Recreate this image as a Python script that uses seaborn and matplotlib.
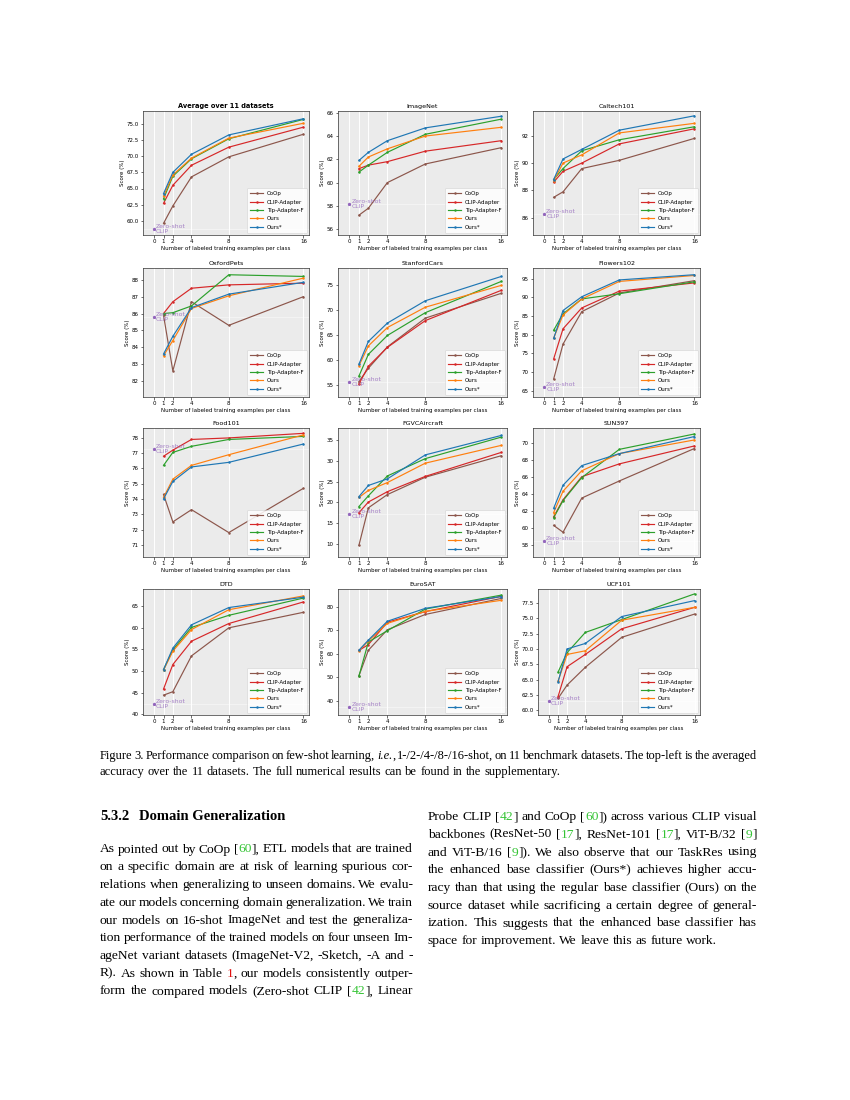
import re
import numpy as np
import pandas as pd
import matplotlib
matplotlib.use("Agg")
import matplotlib.pyplot as plt
import seaborn as sns
from matplotlib.ticker import MultipleLocator, FixedLocator
from matplotlib.font_manager import FontProperties

# ---------------- data ----------------
SHOTS = [1, 2, 4, 8, 16]
XTICKS = [0, 1, 2, 4, 8, 16]
DATASETS = ["Average over 11 datasets", "ImageNet", "Caltech101",
            "OxfordPets", "StanfordCars", "Flowers102",
            "Food101", "FGVCAircraft", "SUN397",
            "DTD", "EuroSAT", "UCF101"]
METHODS = ["CoOp", "CLIP-Adapter", "Tip-Adapter-F", "Ours", "Ours*"]

ZERO_SHOT = [58.8, 58.2, 86.3, 85.8, 55.6, 66.1, 77.3, 17.3, 58.5, 42.3, 37.6, 61.5]

COOP = [
    [59.6, 62.3, 66.8, 69.9, 73.4],
    [57.2, 57.8, 60.0, 61.6, 63.0],
    [87.5, 87.9, 89.6, 90.2, 91.8],
    [85.9, 82.6, 86.7, 85.3, 87.0],
    [55.6, 58.3, 62.6, 68.4, 73.4],
    [68.1, 77.5, 86.2, 91.2, 94.5],
    [74.3, 72.5, 73.3, 71.8, 74.7],
    [9.6, 18.7, 21.9, 26.1, 31.3],
    [60.3, 59.5, 63.5, 65.5, 69.3],
    [44.4, 45.2, 53.5, 60.0, 63.6],
    [50.6, 61.5, 70.2, 76.7, 83.5],
    [61.9, 64.1, 67.0, 71.9, 75.7],
]
CLIP_ADAPTER = [
    [62.7, 65.5, 68.6, 71.4, 74.5],
    [61.2, 61.5, 61.8, 62.7, 63.6],
    [88.6, 89.4, 90.0, 91.4, 92.5],
    [86.0, 86.7, 87.5, 87.7, 87.8],
    [55.1, 58.7, 62.5, 67.9, 74.0],
    [73.5, 81.6, 87.2, 91.7, 93.9],
    [76.8, 77.2, 77.9, 78.0, 78.3],
    [17.5, 20.1, 22.6, 26.3, 32.1],
    [61.3, 63.3, 66.0, 67.5, 69.6],
    [45.8, 51.5, 56.9, 61.0, 66.0],
    [61.4, 63.9, 73.4, 77.9, 84.4],
    [62.2, 67.1, 69.1, 73.3, 76.8],
]
TIP_ADAPTER_F = [
    [63.4, 66.9, 69.6, 72.7, 75.7],
    [60.9, 61.5, 62.6, 64.15, 65.45],
    [88.8, 89.6, 90.9, 91.7, 92.65],
    [86.0, 86.05, 86.45, 88.3, 88.2],
    [56.7, 61.1, 64.9, 69.5, 75.8],
    [81.2, 85.6, 89.6, 91.0, 94.2],
    [76.2, 77.05, 77.45, 77.9, 78.1],
    [19.0, 21.6, 26.4, 30.6, 35.8],
    [61.2, 63.2, 65.9, 69.2, 71.0],
    [50.3, 54.9, 60.1, 62.9, 66.9],
    [50.5, 65.0, 69.8, 79.0, 84.9],
    [66.2, 69.4, 72.7, 74.8, 79.0],
]
OURS = [
    [63.8, 67.1, 69.7, 72.8, 75.1],
    [61.4, 62.2, 62.9, 64.0, 64.75],
    [88.7, 90.0, 90.6, 92.2, 92.9],
    [83.5, 84.4, 86.3, 87.05, 88.1],
    [58.8, 62.8, 66.5, 70.6, 75.0],
    [79.1, 85.3, 89.6, 94.3, 95.9],
    [74.1, 75.3, 76.2, 76.9, 78.2],
    [21.2, 22.9, 24.8, 29.5, 33.8],
    [61.8, 64.3, 66.7, 68.7, 70.3],
    [50.2, 54.6, 59.6, 64.2, 67.4],
    [61.3, 65.5, 72.9, 78.0, 82.7],
    [64.7, 69.1, 69.7, 74.7, 76.8],
]
OURS_STAR = [
    [64.2, 67.5, 70.3, 73.3, 75.8],
    [61.9, 62.6, 63.6, 64.7, 65.7],
    [88.8, 90.3, 91.0, 92.4, 93.45],
    [83.6, 84.65, 86.35, 87.15, 87.85],
    [59.1, 63.7, 67.4, 71.9, 76.8],
    [79.0, 86.5, 90.2, 94.7, 96.1],
    [74.0, 75.15, 76.1, 76.4, 77.6],
    [21.4, 24.1, 25.7, 31.5, 36.2],
    [62.3, 65.0, 67.3, 68.7, 70.7],
    [50.3, 55.3, 60.7, 64.7, 67.1],
    [61.5, 65.8, 73.8, 79.3, 84.3],
    [64.6, 70.0, 70.9, 75.3, 77.9],
]
SERIES = [COOP, CLIP_ADAPTER, TIP_ADAPTER_F, OURS, OURS_STAR]

# ---------------- layout / style ----------------
YLIMS = [(57.8, 77.0), (55.5, 66.15), (84.75, 93.8),
         (81.05, 88.7), (52.5, 78.5), (63.3, 97.9),
         (70.2, 78.65), (6.8, 38.0), (56.6, 71.7),
         (39.8, 69.0), (34.0, 87.5), (59.2, 79.8)]
YSTEPS = [2.5, 2, 2, 1, 5, 5, 1, 5, 2, 5, 10, 2.5]
PALETTE = {"CoOp": "tab:brown", "CLIP-Adapter": "tab:red",
           "Tip-Adapter-F": "tab:green", "Ours": "tab:orange",
           "Ours*": "tab:blue"}

W, H = 850, 1100
COL_LEFT = [143, 338, 533]
COL_W = [166, 169, 167]
ROW_TOP = [111, 268, 428, 589]
ROW_H = [124, 129, 129, 126]

plt.rcParams["font.family"] = ["DejaVu Sans"]
fig = plt.figure(figsize=(8.5, 11), dpi=100)
fig.patch.set_facecolor("white")

FS = 4.0
for i, name in enumerate(DATASETS):
    r, c = divmod(i, 3)
    left, width = COL_LEFT[c], COL_W[c]
    if name == "UCF101":
        left, width = 538, 162
    top, h = ROW_TOP[r], ROW_H[r]
    ax = fig.add_axes([left / W, 1 - (top + h) / H, width / W, h / H])
    ax.set_facecolor("#EBEBEB")
    for x in XTICKS:
        ax.axvline(x, color="white", lw=0.7, zorder=0)
    ax.axhline(ZERO_SHOT[i], color="white", lw=0.5, alpha=0.6, zorder=0)

    rows = []
    for m, s in zip(METHODS, SERIES):
        for x, v in zip(SHOTS, s[i]):
            rows.append({"shots": x, "score": v, "method": m})
    df = pd.DataFrame(rows)
    for m in METHODS:
        sns.lineplot(data=df[df["method"] == m], x="shots", y="score",
                     color=PALETTE[m], marker="o", markersize=1.8,
                     markeredgewidth=0, linewidth=0.85, ax=ax, label=m,
                     errorbar=None)

    ax.scatter([0], [ZERO_SHOT[i]], marker="*", s=2.5, color="#9467bd", zorder=3)
    ax.text(0.2, ZERO_SHOT[i], "Zero-shot\nCLIP", color="#9467bd", alpha=0.8,
            fontsize=4.4, va="center", ha="left", linespacing=1.0)

    ax.set_xlim(-1.2, 16.6)
    ax.set_ylim(*YLIMS[i])
    ax.xaxis.set_major_locator(FixedLocator(XTICKS))
    ax.yaxis.set_major_locator(MultipleLocator(YSTEPS[i]))
    if YSTEPS[i] == 2.5:
        ax.yaxis.set_major_formatter(matplotlib.ticker.FormatStrFormatter("%.1f"))
    ax.tick_params(labelsize=FS, length=1.8, width=0.5, pad=1.2, color="#333333")
    ax.grid(False)
    for sp in ax.spines.values():
        sp.set_color("#333333")
        sp.set_linewidth(0.5)
    ax.set_xlabel("Number of labeled training examples per class", fontsize=FS, labelpad=1.2)
    ax.set_ylabel("Score (%)", fontsize=FS, labelpad=1.5)
    if i == 0:
        ax.set_title(name, fontsize=4.8, fontweight="bold", pad=2.5)
    else:
        ax.set_title(name, fontsize=4.6, pad=2.5)
    leg = ax.legend(loc="lower right", fontsize=FS, frameon=True, framealpha=0.85,
                    facecolor="white", edgecolor="#cccccc", handlelength=2.3,
                    borderpad=0.55, labelspacing=0.6, handletextpad=0.7,
                    borderaxespad=0.4)
    leg.get_frame().set_linewidth(0.4)

# ---------------- page text ----------------
SERIF = "Liberation Serif"
GREEN = "#35C435"
RED = "#E01010"
renderer = fig.canvas.get_renderer()


def parse_word(w):
    segs, pos = [], 0
    for mt in re.finditer(r"\{([gri]):([^}]*)\}", w):
        if mt.start() > pos:
            segs.append((w[pos:mt.start()], "black", "normal"))
        tag, t = mt.group(1), mt.group(2)
        if tag == "g":
            segs.append((t, GREEN, "normal"))
        elif tag == "r":
            segs.append((t, RED, "normal"))
        else:
            segs.append((t, "black", "italic"))
        pos = mt.end()
    if pos < len(w):
        segs.append((w[pos:], "black", "normal"))
    return segs


def tw(t, size, style="normal", weight="normal"):
    fp = FontProperties(family=SERIF, size=size, style=style, weight=weight)
    w, _, _ = renderer.get_text_width_height_descent(t, fp, ismath=False)
    return w


def draw_line(line, x0, x1, y, size, justify=True, weight="normal"):
    words = [parse_word(w) for w in line.split()]
    widths = [sum(tw(t, size, st, weight) for t, c, st in wd) for wd in words]
    space = tw("x x", size, "normal", weight) - tw("xx", size, "normal", weight)
    if justify and len(words) > 1:
        gap = (x1 - x0 - sum(widths)) / (len(words) - 1)
    else:
        gap = space
    x = x0
    for wd in words:
        for t, c, st in wd:
            fig.text(x / W, 1 - y / H, t, fontsize=size, family=SERIF, style=st,
                     weight=weight, color=c, ha="left", va="baseline")
            x += tw(t, size, st, weight)
        x += gap


CAPTION = [
    "Figure 3. Performance comparison on few-shot learning, {i:i.e.}, 1-/2-/4-/8-/16-shot, on 11 benchmark datasets. The top-left is the averaged",
    "accuracy over the 11 datasets. The full numerical results can be found in the supplementary.",
]
LEFT_COL = [
    "As pointed out by CoOp [{g:60}], ETL models that are trained",
    "on a specific domain are at risk of learning spurious cor-",
    "relations when generalizing to unseen domains. We evalu-",
    "ate our models concerning domain generalization. We train",
    "our models on 16-shot ImageNet and test the generaliza-",
    "tion performance of the trained models on four unseen Im-",
    "ageNet variant datasets (ImageNet-V2, -Sketch, -A and -",
    "R). As shown in Table {r:1}, our models consistently outper-",
    "form the compared models (Zero-shot CLIP [{g:42}], Linear",
]
RIGHT_COL = [
    "Probe CLIP [{g:42}] and CoOp [{g:60}]) across various CLIP visual",
    "backbones (ResNet-50 [{g:17}], ResNet-101 [{g:17}], ViT-B/32 [{g:9}]",
    "and ViT-B/16 [{g:9}]). We also observe that our TaskRes using",
    "the enhanced base classifier (Ours*) achieves higher accu-",
    "racy than that using the regular base classifier (Ours) on the",
    "source dataset while sacrificing a certain degree of general-",
    "ization. This suggests that the enhanced base classifier has",
    "space for improvement. We leave this as future work.",
]

CAP_FS, BODY_FS, HEAD_FS = 9.0, 9.7, 10.5
draw_line(CAPTION[0], 100, 757, 759, CAP_FS, justify=True)
draw_line(CAPTION[1], 100, 757, 775, CAP_FS, justify=False)

fig.text(100 / W, 1 - 820 / H, "5.3.2", fontsize=HEAD_FS, family=SERIF,
         weight="bold", ha="left", va="baseline")
fig.text(139 / W, 1 - 820 / H, "Domain Generalization", fontsize=HEAD_FS,
         family=SERIF, weight="bold", ha="left", va="baseline")

LINE_H = 17.75
for k, line in enumerate(LEFT_COL):
    draw_line(line, 100, 413, 852.5 + k * LINE_H, BODY_FS, justify=True)
for k, line in enumerate(RIGHT_COL):
    draw_line(line, 428, 757, 820 + k * LINE_H, BODY_FS,
              justify=(k < len(RIGHT_COL) - 1))

fig.savefig("out.png", dpi=100, facecolor="white")
